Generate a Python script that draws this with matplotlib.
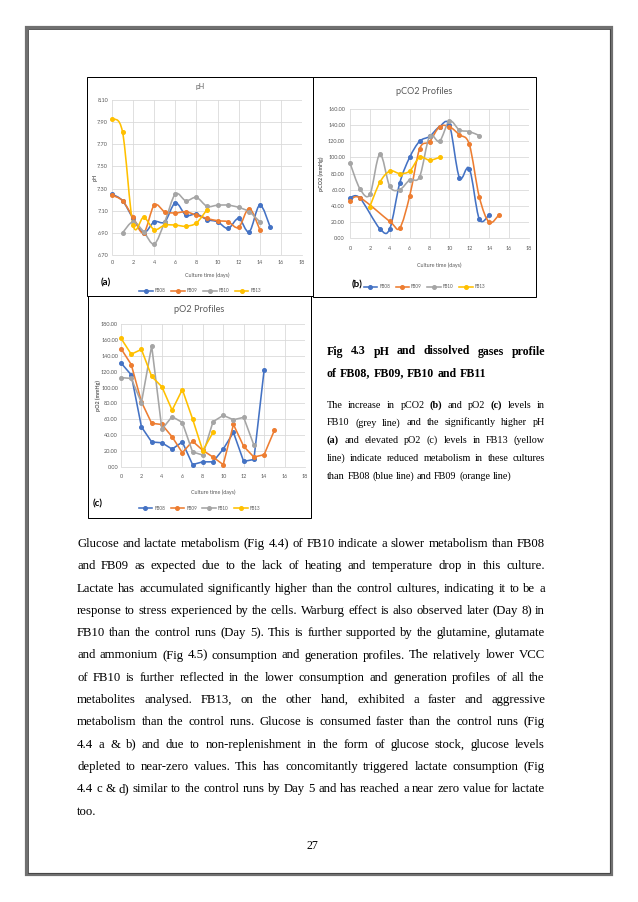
import matplotlib
matplotlib.use('Agg')
import numpy as np
import matplotlib.pyplot as plt
from matplotlib.patches import Rectangle, PathPatch
from matplotlib.path import Path
from matplotlib.lines import Line2D
from matplotlib.ticker import FixedLocator, MultipleLocator, FormatStrFormatter

W, H = 638, 902

# ---------------- data ----------------
series_names = ['FB08', 'FB09', 'FB10', 'FB13']
series_colors = ['#4472C4', '#ED7D31', '#A5A5A5', '#FFC000']

# (a) pH
ph_days = [list(range(0, 16)), list(range(0, 15)), list(range(1, 15)), list(range(0, 10))]
ph_fb08 = [7.25, 7.19, 7.03, 6.90, 7.00, 7.00, 7.17, 7.06, 7.07, 7.02, 7.00, 6.94, 7.03, 6.91, 7.15, 6.95]
ph_fb09 = [7.24, 7.19, 7.04, 6.90, 7.15, 7.09, 7.08, 7.09, 7.06, 7.03, 7.01, 7.00, 6.95, 7.12, 6.93]
ph_fb10 = [6.90, 7.00, 6.91, 6.80, 7.00, 7.25, 7.19, 7.22, 7.14, 7.15, 7.15, 7.13, 7.09, 7.00]
ph_fb13 = [7.93, 7.81, 6.97, 7.04, 6.93, 6.97, 6.97, 6.96, 6.99, 7.11]

# (b) pCO2
pco2_days = [[0, 1, 3, 4, 5, 6, 7, 8, 9, 10, 11, 12, 13, 14],
             [0, 1, 4, 5, 6, 7, 8, 9, 10, 11, 12, 13, 14, 15],
             list(range(0, 14)),
             list(range(2, 10))]
pco2_fb08 = [50, 49.5, 11.5, 11.5, 68, 100, 120, 126, 138, 140, 75, 86, 23.5, 29]
pco2_fb09 = [46, 50, 20.5, 12.5, 52, 110.5, 119.5, 138, 138, 128, 116, 51, 19.5, 29]
pco2_fb10 = [93, 61, 54, 104, 64, 60, 72, 76, 126, 120, 145, 134, 132, 127]
pco2_fb13 = [39, 69, 83, 80, 83, 100, 96.5, 100]

# (c) pO2
po2_days = [list(range(0, 15)), list(range(0, 16)), list(range(0, 14)), list(range(0, 10))]
po2_fb08 = [131, 116, 50.5, 31.5, 30.5, 22.5, 31.5, 3, 6.5, 6.5, 22.5, 43.5, 7, 9.5, 122]
po2_fb09 = [149, 129, 82, 55, 53.5, 38, 18, 32.5, 21, 12.5, 3, 53.5, 26, 12.5, 15.5, 46]
po2_fb10 = [112.5, 111.5, 81, 152.5, 47.5, 63.5, 56, 19, 15, 57, 65, 59.5, 62.5, 27.5]
po2_fb13 = [162, 142, 148, 114, 101, 71.5, 97.5, 60.5, 20.5, 43.5]

caption_head = ['Fig 4.3 pH and dissolved gases profile',
                'of FB08, FB09, FB10 and FB11']
caption_body = ['The increase in pCO2 **(b)** and pO2 **(c)** levels in',
                'FB10 (grey line) and the significantly higher pH',
                '**(a)** and elevated pO2 (c) levels in FB13 (yellow',
                'line) indicate reduced metabolism in these cultures',
                'than FB08 (blue line) and FB09 (orange line)']
body_lines = [
    'Glucose and lactate metabolism (Fig 4.4) of FB10 indicate a slower metabolism than FB08',
    'and FB09 as expected due to the lack of heating and temperature drop in this culture.',
    'Lactate has accumulated significantly higher than the control cultures, indicating it to be a',
    'response to stress experienced by the cells. Warburg effect is also observed later (Day 8) in',
    'FB10 than the control runs (Day 5). This is further supported by the glutamine, glutamate',
    'and ammonium (Fig 4.5) consumption and generation profiles. The relatively lower VCC',
    'of FB10 is further reflected in the lower consumption and generation profiles of all the',
    'metabolites analysed. FB13, on the other hand, exhibited a faster and aggressive',
    'metabolism than the control runs. Glucose is consumed faster than the control runs (Fig',
    '4.4 a & b) and due to non-replenishment in the form of glucose stock, glucose levels',
    'depleted to near-zero values. This has concomitantly triggered lactate consumption (Fig',
    '4.4 c & d) similar to the control runs by Day 5 and has reached a near zero value for lactate',
    'too.']
page_number = '27'

# ---------------- helpers ----------------
PT = 72.0 / 100  # points per pixel at dpi 100
GREY_TXT = '#595959'
CHART_FONT = ['Lato', 'DejaVu Sans']
SERIF = 'Liberation Serif'

fig = plt.figure(figsize=(W / 100, H / 100), dpi=100)
fig.patch.set_facecolor('white')
renderer = fig.canvas.get_renderer()


def fx(x):
    return x / W


def fy(y):
    return 1 - y / H


def box(x0, y0, x1, y1, lw, color, z=5):
    r = Rectangle((fx(x0), fy(y1)), (x1 - x0) / W, (y1 - y0) / H, fill=False,
                  lw=lw * PT, edgecolor=color, transform=fig.transFigure, zorder=z)
    fig.add_artist(r)


def smooth_path(xs, ys):
    # Excel style smoothed line (Catmull-Rom as cubic Bezier)
    verts = [(xs[0], ys[0])]
    codes = [Path.MOVETO]
    n = len(xs)
    for i in range(n - 1):
        a, b = max(i - 1, 0), min(i + 2, n - 1)
        c1 = (xs[i] + (xs[i + 1] - xs[a]) / 6, ys[i] + (ys[i + 1] - ys[a]) / 6)
        c2 = (xs[i + 1] - (xs[b] - xs[i]) / 6, ys[i + 1] - (ys[b] - ys[i]) / 6)
        verts += [c1, c2, (xs[i + 1], ys[i + 1])]
        codes += [Path.CURVE4] * 3
    return Path(verts, codes)


def chart(px, ymin, ymax, ystep, days_list, vals_list, smooth, title, tsize,
          ylabel, ylab_x, boxc, xlab_y, leg_y, panel, panel_xy, xpad, ypad):
    x0, y0, x1, y1 = px
    ax = fig.add_axes([fx(x0), fy(y1), (x1 - x0) / W, (y1 - y0) / H])
    ax.set_xlim(0, 18)
    ax.set_ylim(ymin, ymax)
    ax.xaxis.set_major_locator(MultipleLocator(2))
    ax.yaxis.set_major_locator(FixedLocator(np.arange(ymin, ymax + ystep / 2, ystep)))
    ax.yaxis.set_major_formatter(FormatStrFormatter('%.2f'))
    ax.grid(True, color='#D9D9D9', lw=0.8 * PT)
    ax.set_axisbelow(True)
    for s in ['top', 'right', 'left']:
        ax.spines[s].set_visible(False)
    ax.spines['bottom'].set_color('#D9D9D9')
    ax.spines['bottom'].set_linewidth(0.8 * PT)
    ax.tick_params(length=0, labelsize=4.0, labelcolor=GREY_TXT)
    ax.tick_params(axis='x', pad=xpad * PT)
    ax.tick_params(axis='y', pad=ypad * PT)
    for lab in ax.get_xticklabels() + ax.get_yticklabels():
        lab.set_family(CHART_FONT)
    ax.set_facecolor('none')
    for d, v, c in zip(days_list, vals_list, series_colors):
        if smooth:
            ax.add_patch(PathPatch(smooth_path(d, v), fill=False, edgecolor=c,
                                   lw=1.6 * PT, clip_on=False, zorder=3))
            ax.plot(d, v, 'o', color=c, ms=3.6 * PT, zorder=4, clip_on=False)
        else:
            ax.plot(d, v, '-o', color=c, lw=1.6 * PT, ms=3.6 * PT, zorder=3, clip_on=False)
    cx = (boxc[0] + boxc[1]) / 2
    fig.text(fx(cx), fy(boxc[2]), title, ha='center', va='center', fontsize=tsize,
             color=GREY_TXT, family=CHART_FONT)
    fig.text(fx((x0 + x1) / 2), fy(xlab_y), 'Culture time (days)', ha='center',
             va='center', fontsize=3.9, color=GREY_TXT, family=CHART_FONT)
    fig.text(fx(ylab_x), fy((y0 + y1) / 2), ylabel, ha='center', va='center',
             rotation=90, fontsize=3.9, color=GREY_TXT, family=CHART_FONT,
             weight='bold')
    handles = [Line2D([], [], color=c, lw=1.6 * PT, marker='o', ms=3.6 * PT)
               for c in series_colors]
    fig.legend(handles, series_names, loc='center', ncol=4,
               bbox_to_anchor=(fx(cx), fy(leg_y)), frameon=False,
               prop={'family': CHART_FONT, 'size': 3.3}, labelcolor=GREY_TXT,
               handlelength=3.0, handletextpad=0.4, columnspacing=1.2,
               borderpad=0, borderaxespad=0)
    fig.text(fx(panel_xy[0]), fy(panel_xy[1]), panel, ha='left', va='center',
             fontsize=7, weight='bold', color='black', family=CHART_FONT)
    return ax


def measure(word, size, weight):
    t = fig.text(0, 0, word, fontsize=size, weight=weight, family=SERIF)
    w = t.get_window_extent(renderer).width
    t.remove()
    return w


def put_line(line, x0, x1, y, size, weight='normal', justify=True):
    # y is the baseline in page pixels
    words = []
    for w in line.split():
        if w.startswith('**') and w.endswith('**'):
            words.append((w[2:-2], 'bold'))
        else:
            words.append((w, weight))
    widths = [measure(w, size, wt) for w, wt in words]
    space = measure('a b', size, weight) - measure('ab', size, weight)
    if justify and len(words) > 1:
        gap = (x1 - x0 - sum(widths)) / (len(words) - 1)
    else:
        gap = space
    x = x0
    for (w, wt), wd in zip(words, widths):
        fig.text(fx(x), fy(y), w, ha='left', va='baseline', fontsize=size,
                 weight=wt, family=SERIF, color='black')
        x += wd + gap


# ---------------- page frame ----------------
box(26, 27, 611, 874, 3.2, '#707070')
box(27.5, 28.5, 609.5, 872.5, 0.8, '#3c3c3c')

# chart boxes
box(87, 77, 313, 296, 1.0, 'black')
box(313, 77, 536, 297, 1.0, 'black')
box(88, 296, 311, 518, 1.0, 'black')

# ---------------- charts ----------------
chart((112, 100, 302, 255), 6.70, 8.10, 0.2, ph_days,
      [ph_fb08, ph_fb09, ph_fb10, ph_fb13], True, 'pH', 5.0,
      'pH', 95, (87, 313, 87), 275, 291, '(a)', (101, 283), 5.5, 4)

chart((350, 109, 529, 238), 0, 160, 20, pco2_days,
      [pco2_fb08, pco2_fb09, pco2_fb10, pco2_fb13], True, 'pCO2 Profiles', 6.6,
      'pCO2 (mmHg)', 321.5, (313, 536, 91), 265, 287, '(b)', (352, 285), 8.5, 5)

chart((121, 324, 305, 467), 0, 180, 20, po2_days,
      [po2_fb08, po2_fb09, po2_fb10, po2_fb13], False, 'pO2 Profiles', 6.6,
      'pO2 (mmHg)', 98, (88, 311, 310), 492, 508, '(c)', (93, 504), 7.5, 3)

# ---------------- caption ----------------
put_line(caption_head[0], 327, 545, 354.5, 8.6, 'bold', True)
put_line(caption_head[1], 327, 545, 376.5, 8.6, 'bold', False)
for i, line in enumerate(caption_body):
    put_line(line, 327, 545, 407.5 + i * 17.8, 7.3, 'normal', i < len(caption_body) - 1)

# ---------------- body text ----------------
for i, line in enumerate(body_lines):
    put_line(line, 77, 545, 547 + i * 22.3, 9.2, 'normal', i != len(body_lines) - 1)

fig.text(fx(312), fy(849), page_number, ha='center', va='baseline', fontsize=8.6,
         family=SERIF)

fig.savefig('out.png', dpi=100)
